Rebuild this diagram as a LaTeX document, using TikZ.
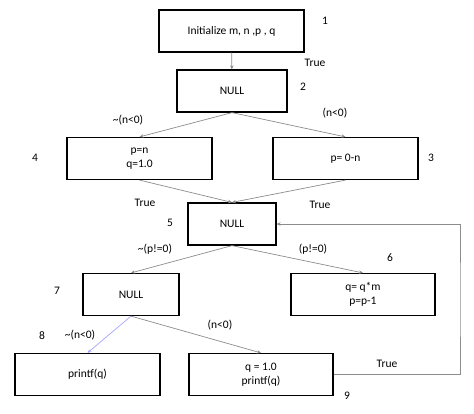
\documentclass[tikz,border=0pt]{standalone}
\usepackage{fontspec}
\setmainfont{Carlito}
\usetikzlibrary{positioning,arrows.meta}

\begin{document}
\begin{tikzpicture}[
    x=1pt, y=-1pt,
    box/.style={rectangle, draw=black, line width=1.2pt, align=center, font=\fontsize{11.5}{13}\selectfont, minimum height=42pt, inner sep=1pt},
    lbl/.style={font=\fontsize{11.5}{13}\selectfont, inner sep=1pt},
    arrow/.style={-{Stealth[length=4pt, width=3.5pt]}, black!45, line width=0.7pt},
]
    \useasboundingbox (0,0) rectangle (474,413);

    % Boxes
    \node[box, minimum width=145pt] (init) at (231.5,31) {Initialize m, n ,p , q};
    \node[box, minimum width=110pt] (nulla) at (232,91) {NULL};
    \node[box, minimum width=145pt] (setp) at (139.5,158.5) {p=n\\[1pt]q=1.0};
    \node[box, minimum width=145pt] (negp) at (345.5,158.5) {p= 0-n};
    \node[box, minimum width=88pt] (nullb) at (232,224) {NULL};
    \node[box, minimum width=96pt] (nullc) at (131,294.5) {NULL};
    \node[box, minimum width=144pt] (mult) at (363,294.5) {q= q*m\\[1pt]p=p-1};
    \node[box, minimum width=145pt] (printa) at (87.5,374.5) {printf(q)};
    \node[box, minimum width=144pt] (printb) at (261,374.5) {q = 1.0\\[1pt]printf(q)};

    % Numbers
    \node[lbl] (n1) at (325,21) {1};
    \node[lbl] (n2) at (303,87) {2};
    \node[lbl] (n3) at (431,158) {3};
    \node[lbl] (n4) at (35,158) {4};
    \node[lbl] (n5) at (170,223) {5};
    \node[lbl] (n6) at (390,258) {6};
    \node[lbl] (n7) at (57,291) {7};
    \node[lbl] (n8) at (42,336) {8};
    \node[lbl] (n9) at (347,396) {9};

    % Edge labels
    \node[lbl] (t1) at (315,63) {True};
    \node[lbl] (c1) at (128,120) {\textasciitilde(n<0)};
    \node[lbl] (c2) at (335,113) {(n<0)};
    \node[lbl] (t2) at (145,203) {True};
    \node[lbl] (t3) at (320,205) {True};
    \node[lbl] (c3) at (155,249) {\textasciitilde(p!=0)};
    \node[lbl] (c4) at (313,249) {(p!=0)};
    \node[lbl] (c5) at (80,335) {\textasciitilde(n<0)};
    \node[lbl] (c6) at (220,325) {(n<0)};
    \node[lbl] (t4) at (387,364) {True};

    % Arrows
    \draw[arrow] (init) -- (nulla);
    \draw[arrow] (nulla.south) -- (setp.north);
    \draw[arrow] (nulla.south) -- (negp.north);
    \draw[arrow] (setp.south) -- (nullb.north);
    \draw[arrow] (negp.south) -- (nullb.north);
    \draw[arrow] (nullb.south) -- (nullc.north);
    \draw[arrow] (nullb.south) -- (mult.north);
    \draw[arrow, blue!35] (nullc.south) -- (printa.north);
    \draw[arrow] (nullc.south) -- (printb.north);
    \coordinate (back) at (460,300);
    \draw[arrow] (printb.east) -| (back) |- (nullb.east);
\end{tikzpicture}
\end{document}
